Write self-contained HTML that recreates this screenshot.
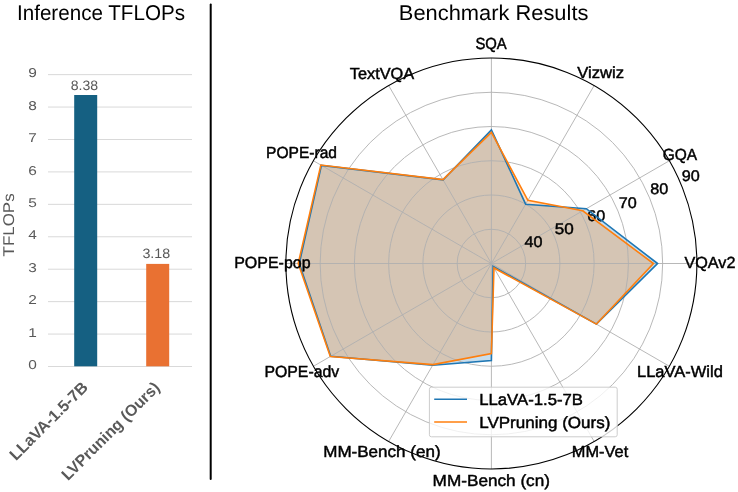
<!DOCTYPE html>
<html><head><meta charset="utf-8"><style>
html,body{margin:0;padding:0;background:#fff;}
svg{display:block;font-family:"Liberation Sans", sans-serif;will-change:transform;text-rendering:geometricPrecision;}
</style></head><body>
<svg width="738" height="492" viewBox="0 0 738 492">
<line x1="48" y1="366.50" x2="192" y2="366.50" stroke="#d9d9d9" stroke-width="1"/>
<line x1="48" y1="334.07" x2="192" y2="334.07" stroke="#d9d9d9" stroke-width="1"/>
<line x1="48" y1="301.64" x2="192" y2="301.64" stroke="#d9d9d9" stroke-width="1"/>
<line x1="48" y1="269.21" x2="192" y2="269.21" stroke="#d9d9d9" stroke-width="1"/>
<line x1="48" y1="236.78" x2="192" y2="236.78" stroke="#d9d9d9" stroke-width="1"/>
<line x1="48" y1="204.35" x2="192" y2="204.35" stroke="#d9d9d9" stroke-width="1"/>
<line x1="48" y1="171.92" x2="192" y2="171.92" stroke="#d9d9d9" stroke-width="1"/>
<line x1="48" y1="139.49" x2="192" y2="139.49" stroke="#d9d9d9" stroke-width="1"/>
<line x1="48" y1="107.06" x2="192" y2="107.06" stroke="#d9d9d9" stroke-width="1"/>
<line x1="48" y1="74.63" x2="192" y2="74.63" stroke="#d9d9d9" stroke-width="1"/>
<text x="32.65" y="369.20" font-size="12.85" text-anchor="middle" fill="#595959" transform="translate(32.65 0) scale(1.2 1) translate(-32.65 0)">0</text>
<text x="32.65" y="336.77" font-size="12.85" text-anchor="middle" fill="#595959" transform="translate(32.65 0) scale(1.2 1) translate(-32.65 0)">1</text>
<text x="32.65" y="304.34" font-size="12.85" text-anchor="middle" fill="#595959" transform="translate(32.65 0) scale(1.2 1) translate(-32.65 0)">2</text>
<text x="32.65" y="271.91" font-size="12.85" text-anchor="middle" fill="#595959" transform="translate(32.65 0) scale(1.2 1) translate(-32.65 0)">3</text>
<text x="32.65" y="239.48" font-size="12.85" text-anchor="middle" fill="#595959" transform="translate(32.65 0) scale(1.2 1) translate(-32.65 0)">4</text>
<text x="32.65" y="207.05" font-size="12.85" text-anchor="middle" fill="#595959" transform="translate(32.65 0) scale(1.2 1) translate(-32.65 0)">5</text>
<text x="32.65" y="174.62" font-size="12.85" text-anchor="middle" fill="#595959" transform="translate(32.65 0) scale(1.2 1) translate(-32.65 0)">6</text>
<text x="32.65" y="142.19" font-size="12.85" text-anchor="middle" fill="#595959" transform="translate(32.65 0) scale(1.2 1) translate(-32.65 0)">7</text>
<text x="32.65" y="109.76" font-size="12.85" text-anchor="middle" fill="#595959" transform="translate(32.65 0) scale(1.2 1) translate(-32.65 0)">8</text>
<text x="32.65" y="77.33" font-size="12.85" text-anchor="middle" fill="#595959" transform="translate(32.65 0) scale(1.2 1) translate(-32.65 0)">9</text>
<rect x="74.2" y="95.0" width="23" height="271.30" fill="#156082"/>
<rect x="146.2" y="263.9" width="23" height="102.40" fill="#e97132"/>
<text x="0" y="0" font-size="15.6" textLength="63" lengthAdjust="spacingAndGlyphs" fill="#595959" transform="translate(14.2 256.4) rotate(-90)">TFLOPs</text>
<text x="0" y="0" font-size="16" font-weight="bold" textLength="103" lengthAdjust="spacingAndGlyphs" fill="#595959" transform="translate(16 461.2) rotate(-45)">LLaVA-1.5-7B</text>
<text x="0" y="0" font-size="16" font-weight="bold" textLength="131" lengthAdjust="spacingAndGlyphs" fill="#595959" transform="translate(68 481.2) rotate(-45)">LVPruning (Ours)</text>
<line x1="210.7" y1="4.6" x2="210.7" y2="479" stroke="#000" stroke-width="2" stroke-linecap="round"/>
<polygon points="657.51,263.50 586.32,208.70 525.65,204.18 491.40,129.93 443.11,179.85 321.44,165.37 299.26,263.50 330.64,356.32 432.66,365.24 491.40,360.43 493.11,266.47 596.40,324.12" fill="#1f77b4" fill-opacity="0.25" stroke="none"/>
<polygon points="653.40,263.50 582.76,210.75 527.88,200.32 491.40,132.32 442.94,179.56 320.85,165.03 298.23,263.50 330.34,356.49 433.00,364.65 491.40,353.58 493.97,267.95 596.40,324.12" fill="#ff7f0e" fill-opacity="0.25" stroke="none"/>
<circle cx="491.4" cy="263.5" r="34.25" fill="none" stroke="#b0b0b0" stroke-width="0.9"/>
<circle cx="491.4" cy="263.5" r="68.50" fill="none" stroke="#b0b0b0" stroke-width="0.9"/>
<circle cx="491.4" cy="263.5" r="102.75" fill="none" stroke="#b0b0b0" stroke-width="0.9"/>
<circle cx="491.4" cy="263.5" r="137.00" fill="none" stroke="#b0b0b0" stroke-width="0.9"/>
<circle cx="491.4" cy="263.5" r="171.25" fill="none" stroke="#b0b0b0" stroke-width="0.9"/>
<line x1="491.4" y1="263.5" x2="696.90" y2="263.50" stroke="#b0b0b0" stroke-width="0.9"/>
<line x1="491.4" y1="263.5" x2="669.37" y2="160.75" stroke="#b0b0b0" stroke-width="0.9"/>
<line x1="491.4" y1="263.5" x2="594.15" y2="85.53" stroke="#b0b0b0" stroke-width="0.9"/>
<line x1="491.4" y1="263.5" x2="491.40" y2="58.00" stroke="#b0b0b0" stroke-width="0.9"/>
<line x1="491.4" y1="263.5" x2="388.65" y2="85.53" stroke="#b0b0b0" stroke-width="0.9"/>
<line x1="491.4" y1="263.5" x2="313.43" y2="160.75" stroke="#b0b0b0" stroke-width="0.9"/>
<line x1="491.4" y1="263.5" x2="285.90" y2="263.50" stroke="#b0b0b0" stroke-width="0.9"/>
<line x1="491.4" y1="263.5" x2="313.43" y2="366.25" stroke="#b0b0b0" stroke-width="0.9"/>
<line x1="491.4" y1="263.5" x2="388.65" y2="441.47" stroke="#b0b0b0" stroke-width="0.9"/>
<line x1="491.4" y1="263.5" x2="491.40" y2="469.00" stroke="#b0b0b0" stroke-width="0.9"/>
<line x1="491.4" y1="263.5" x2="594.15" y2="441.47" stroke="#b0b0b0" stroke-width="0.9"/>
<line x1="491.4" y1="263.5" x2="669.37" y2="366.25" stroke="#b0b0b0" stroke-width="0.9"/>
<text x="524.40" y="246.90" font-size="15.41" textLength="18.00" lengthAdjust="spacingAndGlyphs" fill="#000" stroke="#000" stroke-width="0.45">40</text>
<text x="554.88" y="233.77" font-size="15.41" textLength="19.00" lengthAdjust="spacingAndGlyphs" fill="#000" stroke="#000" stroke-width="0.45">50</text>
<text x="587.36" y="220.64" font-size="15.41" textLength="18.00" lengthAdjust="spacingAndGlyphs" fill="#000" stroke="#000" stroke-width="0.45">60</text>
<text x="618.84" y="207.51" font-size="15.41" textLength="18.00" lengthAdjust="spacingAndGlyphs" fill="#000" stroke="#000" stroke-width="0.45">70</text>
<text x="650.32" y="194.38" font-size="15.41" textLength="18.00" lengthAdjust="spacingAndGlyphs" fill="#000" stroke="#000" stroke-width="0.45">80</text>
<text x="681.80" y="181.25" font-size="15.41" textLength="18.00" lengthAdjust="spacingAndGlyphs" fill="#000" stroke="#000" stroke-width="0.45">90</text>
<polygon points="657.51,263.50 586.32,208.70 525.65,204.18 491.40,129.93 443.11,179.85 321.44,165.37 299.26,263.50 330.64,356.32 432.66,365.24 491.40,360.43 493.11,266.47 596.40,324.12" fill="none" stroke="#1f77b4" stroke-width="1.6" stroke-linejoin="miter"/>
<polygon points="653.40,263.50 582.76,210.75 527.88,200.32 491.40,132.32 442.94,179.56 320.85,165.03 298.23,263.50 330.34,356.49 433.00,364.65 491.40,353.58 493.97,267.95 596.40,324.12" fill="none" stroke="#ff7f0e" stroke-width="1.6" stroke-linejoin="miter"/>
<circle cx="491.4" cy="263.5" r="205.5" fill="none" stroke="#000" stroke-width="1.1"/>
<rect x="429.4" y="387.2" width="187.8" height="49.6" rx="2" fill="#fff" fill-opacity="0.8" stroke="#cccccc" stroke-width="1"/>
<line x1="434.2" y1="399.2" x2="467" y2="399.2" stroke="#1f77b4" stroke-width="1.6"/>
<line x1="434.2" y1="422" x2="467" y2="422" stroke="#ff7f0e" stroke-width="1.6"/>
<text x="17.00" y="19.90" font-size="21.37" textLength="168.00" lengthAdjust="spacingAndGlyphs" fill="#000">Inference TFLOPs</text>
<text x="398.80" y="20.10" font-size="21.37" textLength="189.60" lengthAdjust="spacingAndGlyphs" fill="#000">Benchmark Results</text>
<text x="70.80" y="89.80" font-size="13.66" textLength="27.40" lengthAdjust="spacingAndGlyphs" fill="#595959">8.38</text>
<text x="142.40" y="257.60" font-size="13.66" textLength="27.80" lengthAdjust="spacingAndGlyphs" fill="#595959">3.18</text>
<text x="475.40" y="49.40" font-size="16.13" textLength="31.40" lengthAdjust="spacingAndGlyphs" fill="#000" stroke="#000" stroke-width="0.45">SQA</text>
<text x="349.80" y="79.00" font-size="16.13" textLength="64.40" lengthAdjust="spacingAndGlyphs" fill="#000" stroke="#000" stroke-width="0.45">TextVQA</text>
<text x="577.20" y="78.44" font-size="16.13" textLength="46.80" lengthAdjust="spacingAndGlyphs" fill="#000" stroke="#000" stroke-width="0.45">Vizwiz</text>
<text x="662.80" y="159.50" font-size="16.13" textLength="34.40" lengthAdjust="spacingAndGlyphs" fill="#000" stroke="#000" stroke-width="0.45">GQA</text>
<text x="684.40" y="267.60" font-size="16.13" textLength="51.00" lengthAdjust="spacingAndGlyphs" fill="#000" stroke="#000" stroke-width="0.45">VQAv2</text>
<text x="637.00" y="377.00" font-size="16.13" textLength="85.80" lengthAdjust="spacingAndGlyphs" fill="#000" stroke="#000" stroke-width="0.45">LLaVA-Wild</text>
<text x="571.80" y="456.60" font-size="16.13" textLength="56.40" lengthAdjust="spacingAndGlyphs" fill="#000" stroke="#000" stroke-width="0.45">MM-Vet</text>
<text x="432.60" y="485.85" font-size="16.13" textLength="117.40" lengthAdjust="spacingAndGlyphs" fill="#000" stroke="#000" stroke-width="0.45">MM-Bench (cn)</text>
<text x="323.20" y="456.67" font-size="16.13" textLength="117.40" lengthAdjust="spacingAndGlyphs" fill="#000" stroke="#000" stroke-width="0.45">MM-Bench (en)</text>
<text x="264.40" y="376.67" font-size="16.13" textLength="74.80" lengthAdjust="spacingAndGlyphs" fill="#000" stroke="#000" stroke-width="0.45">POPE-adv</text>
<text x="234.20" y="267.65" font-size="16.13" textLength="76.40" lengthAdjust="spacingAndGlyphs" fill="#000" stroke="#000" stroke-width="0.45">POPE-pop</text>
<text x="266.00" y="158.36" font-size="16.13" textLength="71.00" lengthAdjust="spacingAndGlyphs" fill="#000" stroke="#000" stroke-width="0.45">POPE-rad</text>
<text x="479.20" y="404.70" font-size="16.13" textLength="103.80" lengthAdjust="spacingAndGlyphs" fill="#000" stroke="#000" stroke-width="0.45">LLaVA-1.5-7B</text>
<text x="479.20" y="427.60" font-size="16.13" textLength="131.20" lengthAdjust="spacingAndGlyphs" fill="#000" stroke="#000" stroke-width="0.45">LVPruning (Ours)</text>
</svg>
</body></html>
